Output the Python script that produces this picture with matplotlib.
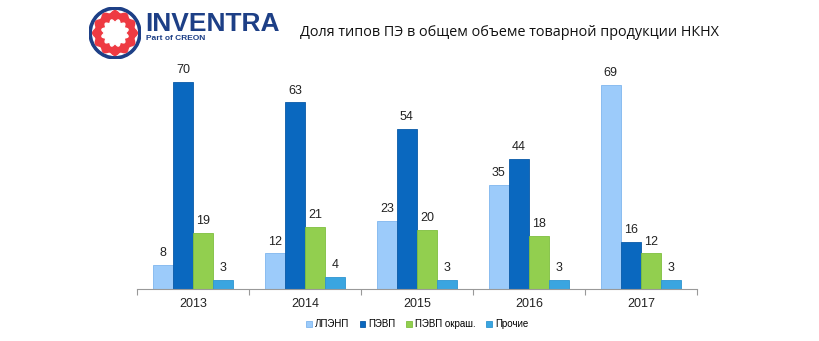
import numpy as np
import matplotlib.pyplot as plt
from matplotlib.patches import Circle, Polygon

years = ["2013", "2014", "2015", "2016", "2017"]
series = ["ЛПЭНП", "ПЭВП", "ПЭВП окраш.", "Прочие"]
lpenp = [8, 12, 23, 35, 69]
pevp = [70, 63, 54, 44, 16]
pevp_color = [19, 21, 20, 18, 12]
other = [3, 4, 3, 3, 3]
colors = ["#9ccbfa", "#0a68bf", "#92cf4f", "#3aa5e0"]
edges = ["#7fb6ee", "#0a5aa8", "#7fbf3f", "#2e95d0"]

fig = plt.figure(figsize=(8.2, 3.41), dpi=100)

# logo: blue ring, red scalloped ring, white centre
lax = fig.add_axes([89 / 820, 1 - 59 / 341, 52 / 820, 52 / 341])
lax.set_xlim(-1, 1)
lax.set_ylim(-1, 1)
lax.set_aspect("equal")
lax.axis("off")
lax.add_patch(Circle((0, 0), 1.0, color="#1d3f86"))
lax.add_patch(Circle((0, 0), 0.86, color="white"))
t = np.linspace(0, 2 * np.pi, 400)
r = 0.81 + 0.05 * np.cos(12 * t)
lax.add_patch(Polygon(np.c_[r * np.cos(t), r * np.sin(t)], color="#ee3a42"))
r2 = 0.47 + 0.05 * np.cos(12 * t + np.pi)
lax.add_patch(Polygon(np.c_[r2 * np.cos(t), r2 * np.sin(t)], color="white"))

fig.text(145 / 820, 1 - 24 / 341, "INVENTRA", fontsize=19, fontweight="bold",
         color="#1d3f86", va="center", ha="left", family="Liberation Sans")
fig.text(146 / 820, 1 - 39 / 341, "Part of CREON", fontsize=6, fontweight="bold",
         color="#1d3f86", va="center", ha="left", family="Liberation Sans")
fig.text(300 / 820, 1 - 33 / 341,
         "Доля типов ПЭ в общем объеме товарной продукции НКНХ",
         fontsize=10.4, color="#111111", va="center", ha="left", family="Open Sans")

ax = fig.add_axes([137 / 820, 1 - 289 / 341, 560 / 820, 228 / 341])
x = np.arange(len(years))
w = 0.18
data = [lpenp, pevp, pevp_color, other]
for i, vals in enumerate(data):
    pos = x + (i - 1.5) * w
    ax.bar(pos, vals, w, color=colors[i], edgecolor=edges[i], linewidth=0.6,
           label=series[i])
    for xp, v in zip(pos, vals):
        ax.text(xp, v + 2, str(v), ha="center", va="bottom", fontsize=9,
                color="#222222", family="Liberation Sans")

ax.set_xlim(-0.5, len(years) - 0.5)
ax.set_ylim(0, 77)
ax.set_yticks([])
for s in ["top", "right", "left"]:
    ax.spines[s].set_visible(False)
ax.spines["bottom"].set_color("#999999")
ax.set_xticks(np.arange(-0.5, len(years), 1))
ax.set_xticklabels([])
ax.tick_params(axis="x", length=4, color="#999999", direction="out")
for xi, yr in zip(x, years):
    ax.text(xi, -3, yr, ha="center", va="top", fontsize=9, color="#222222",
            family="Liberation Sans")

ax.legend(loc="upper center", bbox_to_anchor=(0.5, -0.095), ncol=4, frameon=False,
          handlelength=0.6, handleheight=0.6, handletextpad=0.3,
          columnspacing=1.1, prop={"family": "Liberation Sans", "size": 7})

fig.savefig("out.png", dpi=100)
